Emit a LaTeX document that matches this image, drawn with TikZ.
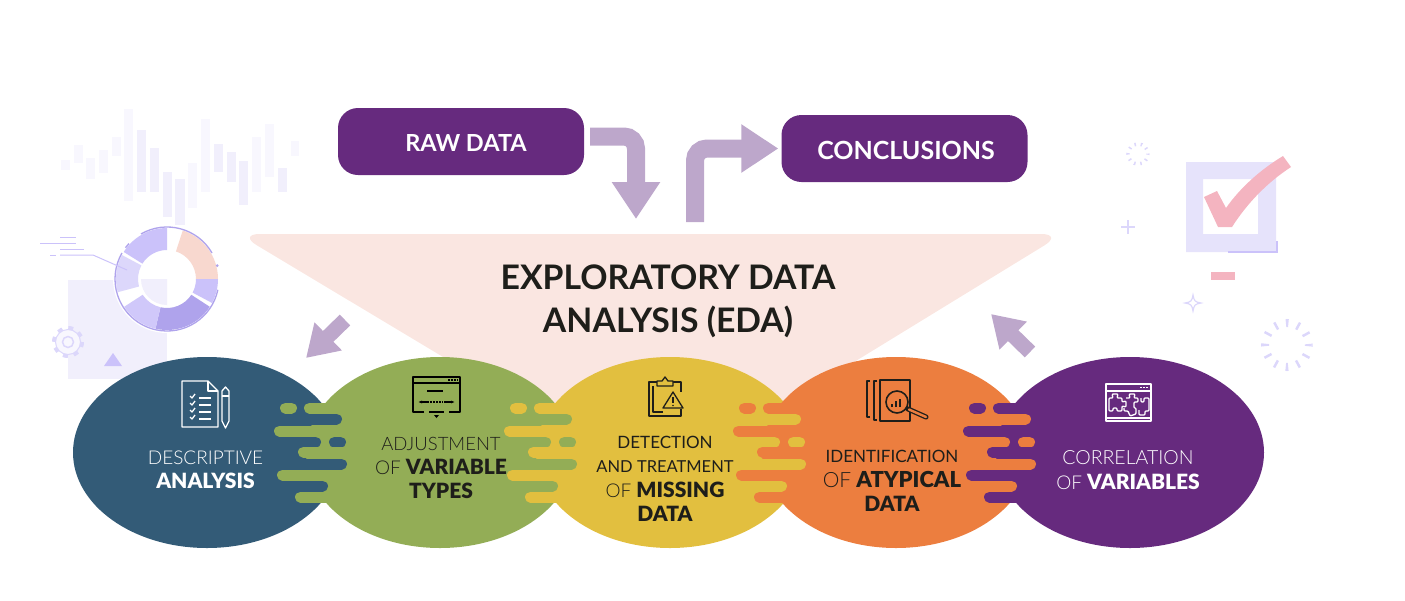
\documentclass[tikz,border=0pt]{standalone}
\usepackage{fontspec}
\setmainfont{Lato}
\newfontfamily\lightfont{Lato Light}
\newfontfamily\heavyfont{Lato Black}
\usetikzlibrary{arrows.meta,calc,shapes.geometric}
\definecolor{plum}{HTML}{662A7E}
\definecolor{arrowplum}{HTML}{BDA7CB}
\definecolor{blush}{HTML}{FAE6E1}
\definecolor{slateblue}{HTML}{335B77}
\definecolor{olive}{HTML}{93AD56}
\definecolor{mustard}{HTML}{E2BF3F}
\definecolor{tangerine}{HTML}{EC7E3F}
\definecolor{inkblack}{HTML}{1E1E1A}
\definecolor{palebar}{HTML}{F8F7FE}
\definecolor{midbar}{HTML}{F1EFFC}
\definecolor{lilac}{HTML}{CBC2FA}
\definecolor{lilacdark}{HTML}{AFA3EC}
\definecolor{lilacpale}{HTML}{DCD7FB}
\definecolor{peach}{HTML}{F8D8CF}
\definecolor{boxlilac}{HTML}{E6E3FB}
\definecolor{rose}{HTML}{F4B4C0}
\tikzset{
  blob/.style={ellipse, fill=#1, minimum width=268, minimum height=191, inner sep=0},
  databox/.style={fill=plum, rounded corners=20, minimum width=246, minimum height=67, inner sep=0,
    text=white, font=\fontsize{23.5}{30}\selectfont\bfseries},
  fatarrow/.style={draw=arrowplum, line width=18, rounded corners=12, -{Triangle[length=37pt,width=46pt]}},
  slimarrow/.style={draw=arrowplum, line width=15, -{Triangle[length=31pt,width=37pt]}},
  streak/.style={line width=11, line cap=round},
  caption/.style={align=center, inner sep=0, font=\fontsize{19}{24.4}\selectfont\lightfont},
  icon/.style={line width=1.3, line join=round},
  whisp/.style={draw=lilac, line width=1},
}
\newcommand{\bigbold}[1]{{\fontsize{21}{24.4}\selectfont\heavyfont #1}}
\newcommand{\sized}[2]{{\fontsize{#1}{24.4}\selectfont #2}}
\newcommand{\ringpart}[3]{\fill[#1] (#2:51) arc[start angle=#2, end angle=#3, radius=51] -- (#3:29) arc[start angle=#3, end angle=#2, radius=29] -- cycle;}
\newcommand{\streaks}[3]{
  \begin{scope}[xshift=#1]
  \draw[streak,#2] (300,419) -- (336.5,419);
  \draw[streak,#2] (300,442) -- (315.5,442);
  \draw[streak,#2] (334.5,442) -- (340.5,442);
  \draw[streak,#2] (300,464) -- (341.5,464);
  \draw[streak,#2] (300,486) -- (322.5,486);
  \draw[streak,#3] (285.5,408) -- (291.5,408);
  \draw[streak,#3] (309.5,408) -- (335,408);
  \draw[streak,#3] (279.5,431) -- (345,431);
  \draw[streak,#3] (303.5,452) -- (345,452);
  \draw[streak,#3] (282.5,475) -- (345,475);
  \draw[streak,#3] (300.5,497) -- (335,497);
  \end{scope}
}
\begin{document}
\begin{tikzpicture}[x=1pt,y=-1pt]
\useasboundingbox (0,0) rectangle (1405,600);
%bars
\fill[palebar] (61,160) rectangle (70,170);
\fill[palebar] (74,145) rectangle (83,163);
\fill[palebar] (86,158) rectangle (95,179);
\fill[palebar] (99,150) rectangle (108,173);
\fill[palebar] (112,137) rectangle (121,156);
\fill[palebar] (124,109) rectangle (133,201);
\fill[midbar] (137,130) rectangle (146,192);
\fill[midbar] (150,148) rectangle (159,192);
\fill[midbar] (163,172) rectangle (172,217);
\fill[midbar] (175,179) rectangle (185,225);
\fill[palebar] (188,163) rectangle (197,208);
\fill[palebar] (201,119) rectangle (210,192);
\fill[midbar] (214,144) rectangle (223,172);
\fill[midbar] (227,152) rectangle (236,182);
\fill[midbar] (239,161) rectangle (248,205);
\fill[palebar] (252,137) rectangle (261,192);
\fill[palebar] (265,124) rectangle (274,177);
\fill[midbar] (278,168) rectangle (287,192);
\fill[palebar] (291,141) rectangle (299,156);
%square and gear
\fill[midbar] (68,280) rectangle (167,379);
\fill[lilac] (104,366) -- (113,353) -- (122,366) -- cycle;
\draw[lilacpale, line width=4, dash pattern=on 5pt off 6pt] (68,342) circle (14);
\draw[lilacpale, line width=1, fill=palebar] (68,342) circle (12.5);
\draw[lilacpale, line width=1.5] (68,342) circle (5.5);
%donut
\begin{scope}[shift={(167,279)},y=1pt]
\fill[white] (0,0) circle (54);
\ringpart{peach}{0}{72}
\ringpart{lilac}{-28}{0}
\ringpart{lilacdark}{-103}{-33}
\ringpart{lilac!90!white}{-147}{-103}
\ringpart{lilacpale}{-208}{-165}
\ringpart{lilac}{90}{148}
\fill[midbar] (0,0) -- (-26,0) arc[start angle=180, end angle=270, radius=26] -- cycle;
\draw[lilacdark, line width=1.3] (30:52) arc[start angle=30, end angle=120, radius=52];
\draw[lilacdark, line width=1.3] (-12:52) arc[start angle=-12, end angle=-210, radius=52];
\draw[lilacdark, line width=1.3] (137:52) arc[start angle=137, end angle=143, radius=52];
\fill[lilacdark] (15:52) circle (1.5);
\end{scope}
\draw[whisp] (60,237) -- (76,237);
\draw[whisp] (40,243) -- (76,243);
\draw[whisp] (60,249) -- (84,249);
\draw[whisp] (50,255) -- (56,255);
\draw[whisp] (60,255) -- (93,255) -- (127,270);
%check box
\fill[boxlilac, even odd rule] (1186,162) rectangle (1276,252) (1203,179) rectangle (1258,234);
\draw[lilac, line width=2] (1228,252) -- (1277,252) -- (1277,241);
\fill[rose] (1204,197) -- (1217,191) -- (1226,208) .. controls (1240,188) and (1260,170) .. (1283,156) -- (1291,167) .. controls (1268,182) and (1248,202) .. (1232,227) -- (1218,227) -- cycle;
\fill[rose] (1211,272) rectangle (1235,280);
\draw[lilacpale, line width=3.5, dash pattern=on 1.5pt off 4.78pt, dash phase=0.75pt] (1138,154) circle (10);
\draw[lilacpale, line width=2] (1121,227) -- (1135,227);
\draw[lilacpale, line width=2] (1128,220) -- (1128,234);
\draw[lilacpale, line width=1.2] (1193,295) .. controls (1194,301) and (1195,302) .. (1201,303) .. controls (1195,304) and (1194,305) .. (1193,311) .. controls (1192,305) and (1191,304) .. (1185,303) .. controls (1191,302) and (1192,301) .. (1193,295) -- cycle;
\draw[lilacpale, line width=8, dash pattern=on 2.5pt off 9.02pt, dash phase=1.25pt] (1287,345) circle (22);
%funnel
\fill[blush, rounded corners=22] (238,234) -- (1063,234) -- (655,484) -- cycle;
%data boxes
\node[databox] (raw) at (461,141.5) {\hspace{10pt}\raisebox{-10pt}[0pt][0pt]{RAW DATA}};
\node[databox] (conclusions) at (904.5,148.5) {\hspace{3pt}\raisebox{-10.5pt}[0pt][0pt]{\fontsize{25}{30}\selectfont CONCLUSIONS}};
\coordinate (rawtip) at (636,219);
\coordinate (edaout) at (695,222);
\draw[fatarrow] ([xshift=6,yshift=5]raw.east) -| (rawtip);
\draw[fatarrow] (edaout) |- ([xshift=-3]conclusions.west);
\node[font=\fontsize{33.8}{42.5}\selectfont\bfseries, text=inkblack, align=center, inner sep=0] (eda) at (668,301.5) {EXPLORATORY DATA\\ANALYSIS (EDA)};
%blobs
\node[blob=slateblue] (1) at (207,452.5) {};
\node[blob=olive] (2) at (440,452.5) {};
\node[blob=mustard] (3) at (670,452.5) {};
\node[blob=tangerine] (4) at (896,452.5) {};
\node[blob=plum] (5) at (1130,452.5) {};
\streaks{0}{slateblue}{olive}
\streaks{230}{olive}{mustard}
\streaks{459}{mustard}{tangerine}
\streaks{689}{tangerine}{plum}
\coordinate (leftstart) at (345,320);
\coordinate (lefttip) at (306,358);
\coordinate (rightstart) at (1030,352);
\coordinate (righttip) at (991,314);
\draw[slimarrow] (leftstart) -- (lefttip);
\draw[slimarrow] (rightstart) -- (righttip);
%captions
\node[caption, text=white] (desc) at (205.5,470) {DESCRIPTIVE\\\bigbold{ANALYSIS}};
\node[caption, text=inkblack] (adj) at (441,468) {\sized{18.5}{ADJUSTMENT}\\OF \bigbold{VARIABLE}\\\bigbold{TYPES}};
\node[caption, text=inkblack] (det) at (665,479) {\sized{17}{\normalfont DETECTION}\\\sized{16.5}{\normalfont AND TREATMENT}\\OF \bigbold{MISSING}\\\bigbold{DATA}};
\node[caption, text=inkblack] (ident) at (892,481) {\sized{17}{\normalfont IDENTIFICATION}\\\sized{21}{OF} \sized{22}{\heavyfont ATYPICAL}\\\bigbold{DATA}};
\node[caption, text=white] (corr) at (1128,470) {\sized{19.5}{CORRELATION}\\OF \bigbold{VARIABLES}};
%icon of blob 1
\draw[icon, white] (182,381) -- (208,381) -- (218,391) -- (218,427) -- (182,427) -- cycle;
\draw[icon, white] (208,381) -- (208,391) -- (218,391);
\draw[icon, white] (190,396) -- (192,398) -- (195,394);
\draw[icon, white] (190,403) -- (192,405) -- (195,401);
\draw[icon, white] (190,410) -- (192,412) -- (195,408);
\draw[icon, white] (190,417) -- (192,419) -- (195,415);
\draw[icon, white] (199,398) -- (211,398);
\draw[icon, white] (199,405) -- (211,405);
\draw[icon, white] (199,412) -- (211,412);
\draw[icon, white] (199,419) -- (211,419);
\draw[icon, white] (222,391) -- (225.5,387) -- (229,391) -- (229,421) -- (225.5,428) -- (222,421) -- cycle;
\draw[icon, white] (222,396) -- (229,396);
%icon of blob 2
\draw[icon, black] (424,412) -- (413,412) -- (413,377) -- (460,377) -- (460,412) -- (449,412);
\draw[icon, black] (413,383) -- (460,383);
\draw[icon, black, line width=1.5, dash pattern=on 2pt off 1pt] (448,380) -- (458,380);
\draw[icon, black, line width=1.5] (427,391) -- (443,391);
\draw[icon, black, {Latex[length=4pt]}-] (418,402) -- (429,402);
\draw[icon, black, dash pattern=on 1.5pt off 1.5pt] (430,402) -- (443,402);
\draw[icon, black, -{Latex[length=4pt]}] (444,402) -- (455,402);
\draw[icon, black] (429,412) -- (444,412);
\fill[black] (434,415) -- (439,415) -- (436.5,418) -- cycle;
%icon of blob 3
\draw[icon, inkblack] (658,382) -- (649,382) -- (649,416) -- (681,416) -- (681,409);
\draw[icon, inkblack] (672,382) -- (681,382) -- (681,392);
\draw[icon, inkblack] (653,386) -- (653,412) -- (663,412);
\draw[icon, inkblack, fill=mustard] (657,386) -- (657,381) -- (662,381) -- (665,377) -- (668,381) -- (673,381) -- (673,386) -- cycle;
\draw[icon, inkblack, fill=mustard] (673,392) -- (683,408) -- (663,408) -- cycle;
\draw[icon, inkblack] (673,397) -- (673,403);
\fill[inkblack] (673,405.5) circle (0.8);
%icon of blob 4
\draw[icon, inkblack] (870,381) -- (867,381) -- (867,417) -- (870,417);
\draw[icon, inkblack] (877,381) -- (874,381) -- (874,420) -- (877,420);
\draw[icon, inkblack] (880,380) rectangle (910,421);
\draw[icon, inkblack, line width=1.6, fill=tangerine] (897,402) circle (11);
\draw[icon, inkblack, line width=1.6] (892,407) -- (892,404);
\draw[icon, inkblack, line width=1.6] (896,407) -- (896,401);
\draw[icon, inkblack, line width=1.6] (900,407) -- (900,399);
\draw[icon, inkblack, line width=5, line cap=round] (908,409) -- (926,417);
\draw[icon, tangerine, line width=2.4, line cap=round] (909,409.5) -- (926,417);
%icon of blob 5
\draw[icon, white] (1106,384) rectangle (1151,421);
\draw[icon, white] (1106,391) -- (1151,391);
\draw[icon, white, line width=1.5, dash pattern=on 2pt off 1pt] (1140,387.5) -- (1149,387.5);
\draw[icon, white, rounded corners=1] (1109,398) -- (1113,398) -- (1112,394) -- (1118,394) -- (1117,398) -- (1122,398) -- (1122,402) -- (1126,401) -- (1126,407) -- (1122,406) -- (1122,411) -- (1117,411) -- (1117,408) -- (1113,408) -- (1113,411) -- (1109,411) -- cycle;
\draw[icon, white, rounded corners=1] (1126,398) -- (1130,398) -- (1129,394) -- (1135,394) -- (1134,398) -- (1138,398) -- (1138,402) -- (1134,402) -- (1134,408) -- (1136,408) -- (1136,414) -- (1130,416) -- (1128,411) -- (1124,411) -- (1124,408);
\draw[icon, white, rounded corners=1] (1141,398) -- (1141,402) -- (1144,402) -- (1144,398) -- (1149,398) -- (1149,411) -- (1145,411) -- (1145,415) -- (1139,415) -- (1139,410);
\draw[icon, white] (1106,418) -- (1151,418);
\end{tikzpicture}
\end{document}
